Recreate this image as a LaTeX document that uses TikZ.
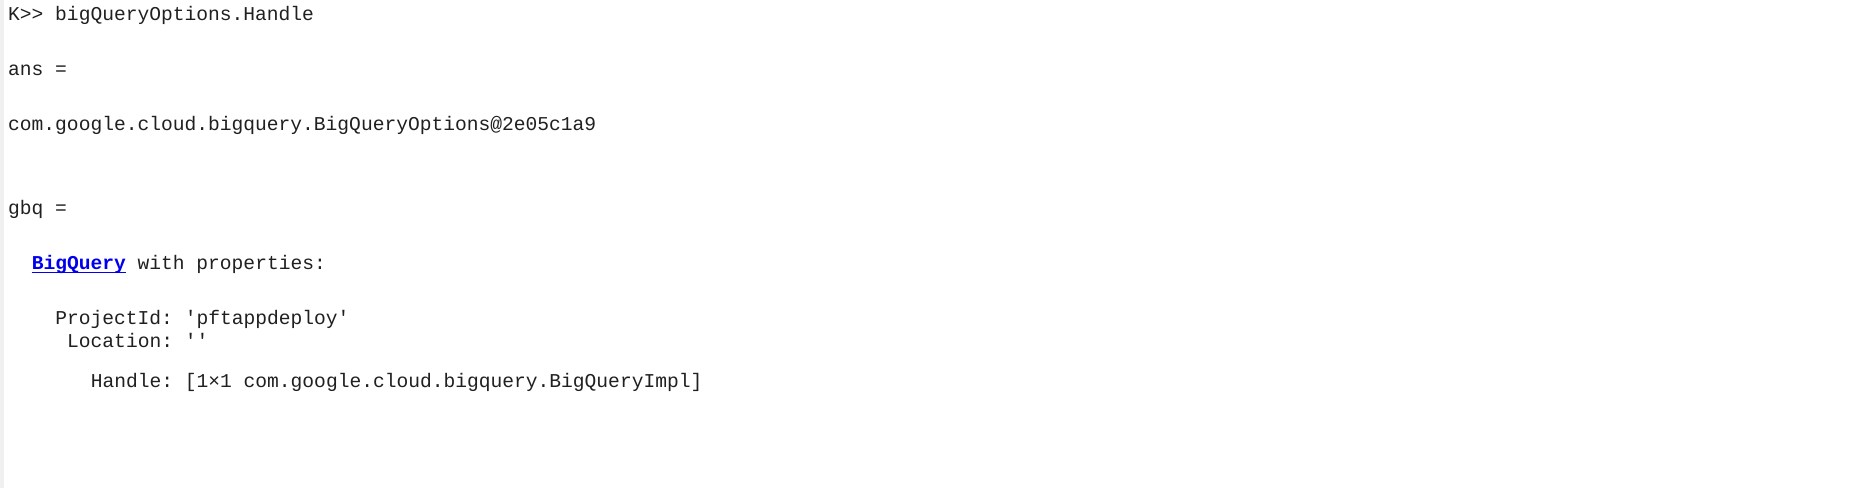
\documentclass[tikz,border=0pt]{standalone}
\usepackage{fontspec}
\setmonofont{Liberation Mono}
\definecolor{txt}{HTML}{202020}
\definecolor{lnk}{HTML}{0000EE}
\begin{document}
\begin{tikzpicture}[x=1pt,y=-1pt,
  ln/.style={anchor=base west,inner sep=0pt,font=\ttfamily\fontsize{19.6}{20}\selectfont,text=txt}]
\useasboundingbox[fill=white] (0,0) rectangle (1859,488);
\fill[black!6] (0,0) rectangle (4,488);
\node[ln] (l1) at (8,20) {K>> bigQueryOptions.Handle};
\node[ln] (l2) at (8,75) {ans =};
\node[ln] (l3) at (8,130) {com.google.cloud.bigquery.BigQueryOptions@2e05c1a9};
\node[ln] (l4) at (8,214) {gbq =};
\node[ln] (l5) at (31.6,269) {\textcolor{lnk}{\bfseries BigQuery} with properties:};
\draw[lnk,line width=1.3pt] (31.6,272.5) -- (126,272.5);
\node[ln] (l6) at (55.2,324) {ProjectId: 'pftappdeploy'};
\node[ln] (l7) at (67,347) {Location: ''};
\node[ln] (l8) at (90.6,387) {Handle: [1×1 com.google.cloud.bigquery.BigQueryImpl]};
\end{tikzpicture}
\end{document}
